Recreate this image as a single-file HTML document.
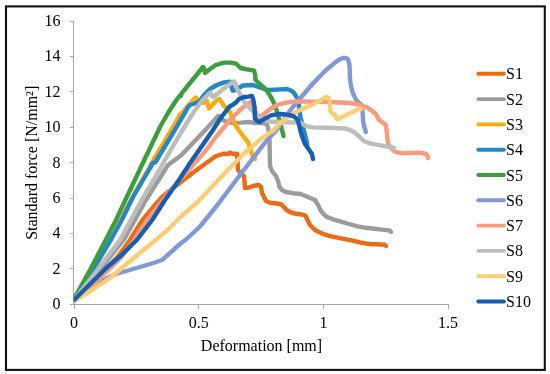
<!DOCTYPE html>
<html><head><meta charset="utf-8"><title>Chart</title>
<style>
html,body{margin:0;padding:0;background:#fff;}
body{width:550px;height:374px;overflow:hidden;}
svg{display:block;}
text{font-family:"Liberation Serif",serif;font-size:16px;fill:#000;}
.ln{fill:none;stroke-width:4.4;stroke-linecap:round;stroke-linejoin:round;}
.ax{stroke:#a6a6a6;stroke-width:1;fill:none;shape-rendering:crispEdges;}
</style></head><body>
<svg width="550" height="374" viewBox="0 0 550 374">
<rect x="0" y="0" width="550" height="374" fill="#fff"/>
<rect x="6" y="6.4" width="538.8" height="363.5" fill="#fff" stroke="#111" stroke-width="2.1"/>

<path class="ax" d="M73.5 20.5 V304.2 H448.5"/>
<path class="ax" d="M69.5 304.2 H74 M69.5 268.8 H74 M69.5 233.4 H74 M69.5 198.0 H74 M69.5 162.6 H74 M69.5 127.2 H74 M69.5 91.8 H74 M69.5 56.4 H74 M69.5 21.0 H74 M74.0 304.2 V308.7 M198.7 304.2 V308.7 M323.4 304.2 V308.7 M448.1 304.2 V308.7 "/>
<text x="60.5" y="309.2" text-anchor="end">0</text>
<text x="60.5" y="273.8" text-anchor="end">2</text>
<text x="60.5" y="238.4" text-anchor="end">4</text>
<text x="60.5" y="203.0" text-anchor="end">6</text>
<text x="60.5" y="167.6" text-anchor="end">8</text>
<text x="60.5" y="132.2" text-anchor="end">10</text>
<text x="60.5" y="96.8" text-anchor="end">12</text>
<text x="60.5" y="61.4" text-anchor="end">14</text>
<text x="60.5" y="26.0" text-anchor="end">16</text>
<text x="74.0" y="327.6" text-anchor="middle">0</text>
<text x="198.7" y="327.6" text-anchor="middle">0.5</text>
<text x="323.4" y="327.6" text-anchor="middle">1</text>
<text x="448.1" y="327.6" text-anchor="middle">1.5</text>
<text x="261.5" y="351.3" text-anchor="middle">Deformation [mm]</text>
<text transform="translate(37.4,162.8) rotate(-90)" text-anchor="middle">Standard force [N/mm²]</text>
<defs><clipPath id="pc"><rect x="73.6" y="10" width="400" height="300"/></clipPath></defs>
<g clip-path="url(#pc)">
<polyline class="ln" stroke="#EC6B19" points="74,301 95,280 117.5,257 130,240 142.5,220 155,205 162,197 170,190.5 181,182 198,169 216,156 224,153.6 228,154 230,152.5 233,154 237,153.6 237.6,162 238,170 241,174 244,176 244.6,182 245,188 249,187.5 253,186 259,185 261,187 262,193 264,197 266,201 270,202.7 280.6,204 283,206 286.5,210 291,212.5 296,213.8 302,214.5 305.5,215.7 307.5,220 310,225 315,230 322,233.5 329,235.8 340,238.2 352.7,240.6 361,242.6 369.3,244 377,244.3 384.7,244.8 386,246"/>
<polyline class="ln" stroke="#9C9C9C" points="74,300 91,281 124.3,239 146,200 168,165 181,155.5 191,145 201,134.5 209,126 214.5,120 217.5,116.5 219.5,116 221,119 226,121.5 233,123 241,122.6 249,122 255,123 262,123 267,124 268.6,130 269.5,140 270,166 272,171 276,176 278,181 279.5,187 282,190 286,192 293,193.2 300.7,194 308,197 315,200 318,205 321,211 324,214.5 327,217 334,219.6 341,221.6 349,224 357.5,226.4 366,227.8 374,228.7 382,229.6 389.4,230.4 391,232"/>
<polyline class="ln" stroke="#F7AD12" points="74,300 90,276 110.5,240 120.8,220 133,196 148.5,169 154,159 161.8,146 178.6,117.4 179.5,114.5 181,114 188,106 194,99 195.5,97.6 198,99.5 203,103 207,101 208,105 209,108.6 211.5,106 214,103 217,100 219.4,99 221.5,102 224,106 227,109 229.7,111.6 232,117 234.5,123.5 238,129 243,136 248,142 250,148 252,154 255,159"/>
<polyline class="ln" stroke="#2488C8" points="74,299 92,271 111.8,238 121.8,220 133,197 151,166.5 151.8,164 155.5,162 157,159.5 170,138 186,111 188,107 190,105 196,103 200,101 202,98 204,95 210,89 217,85 224,82.4 230,81.6 231,85 232.5,90.5 235,90 243,85.5 253,85 260,87.5 267,90 277,89.6 287,89 291,90.5 294,93 296.5,97 298.4,101 299.4,109 300.4,117 302.5,125 304.5,133 306.5,141 307.2,144.5"/>
<polyline class="ln" stroke="#3C9E3C" points="74,299 90,270 106.8,238 116,220 123.5,204 140.5,168 160.5,126 168,113 175,102 179.5,96 180.8,96 181.6,93.4 193.3,79 203,67 204,68.5 205,73 210,69 216,65 224,62.6 230,62.6 236,63.6 238,65.5 240.5,68 247,69.4 254,70.6 255,74 255.6,80 261,85 266.5,90 270,95.5 273.5,102 276.5,110 278.5,117 281,126 283.5,136"/>
<polyline class="ln" stroke="#8199DA" points="74,300 95,284 116,274 140,267 155,262.5 162,260 170,253 180,244 186,239.5 200,226.5 217,205.5 240,175 267,140 275,132 292,108 311.5,85 325,71 336.5,61.4 340.5,59 344,57.8 347.3,58.6 348.8,61.5 349.6,66 350,79 351,86 352.5,92 355.5,99 358.5,102.5 361.5,105 362.6,112 363,120 364,126 365.8,132"/>
<polyline class="ln" stroke="#FB9B7B" points="74,301 99,279 121,257.5 133.8,240.5 147.2,220 162.5,201 172.5,188 192,166 205.5,151 217.5,135 226,125 230,120 238.5,111.5 244,106.5 247.5,103.8 251,102 254,107 258,118.5 261,116.5 265,113 271,108.5 277,105 284,103 291,101.8 302,101.4 313,101.6 330,102 350,103 358,104.4 366,107 371,110 376,114 377.4,117 378.6,119.6 382,122 385.6,125 386.6,130 387,135 388,143 390.6,147.4 394,151 398,152.8 402,153.4 410,153 418,152.6 422,153 426,154 427.4,155.6 428,158"/>
<polyline class="ln" stroke="#BDBDBD" points="74,300 95,273 120,240 140,203 161,167 176,141 185,126 194,111.5 201.8,101 209,93.5 210.5,92.5 212,96 213.5,97 222,90 230,84 234,81.4 235.6,84 237,88.4 241,96 245,103 249,107.4 253,111 258.5,115.5 264,120 272,121.8 286,122.2 300,122.6 303,124 306,126.2 313,127.4 324,127.8 335,128 346,128.6 350,130 354,132 359,136.4 364,141 370,143.4 376,144.6 383,145.8 390,147 394,148"/>
<polyline class="ln" stroke="#FFCD73" points="74,301 92,290 110,278 135,257 157,239 167.6,230 180,217.5 198,201.5 222,176 245,152.5 262,138 274,130 279,124 287,118 295,112.4 303,108.6 311,105.4 319,101.4 326.4,96.8 328.4,98 329.6,101 330.4,111 332.4,113.6 335,115 336.4,118.6 338,119 349,113.6 360,108.4 361,109"/>
<polyline class="ln" stroke="#155EB2" points="74,300 106,268.2 121,255.6 136.8,240 152.2,220 165,200 178,181.5 189,164.6 196,154.6 204,143 213,130 220,119 226.5,110.5 229,107 233,104.6 236,102.4 239,99 244,97 248,96.6 252,96 253.4,100 254.4,106 255,118.6 257,121 259.4,122 265,118.6 271,115.4 276,114.4 281,114 287,114.6 293,116 296,118 298,121 299.6,127 301,133 303,139 305,144 308.6,149 312,154 313,159"/>
</g>
<line class="ln" style="stroke-width:3.9" stroke="#EC6B19" x1="478.3" y1="73.8" x2="503.9" y2="73.8"/>
<text x="506.1" y="79.3">S1</text>
<line class="ln" style="stroke-width:3.9" stroke="#9C9C9C" x1="478.3" y1="99.1" x2="503.9" y2="99.1"/>
<text x="506.1" y="104.6">S2</text>
<line class="ln" style="stroke-width:3.9" stroke="#F7AD12" x1="478.3" y1="124.4" x2="503.9" y2="124.4"/>
<text x="506.1" y="129.9">S3</text>
<line class="ln" style="stroke-width:3.9" stroke="#2488C8" x1="478.3" y1="149.7" x2="503.9" y2="149.7"/>
<text x="506.1" y="155.2">S4</text>
<line class="ln" style="stroke-width:3.9" stroke="#3C9E3C" x1="478.3" y1="175.0" x2="503.9" y2="175.0"/>
<text x="506.1" y="180.5">S5</text>
<line class="ln" style="stroke-width:3.9" stroke="#8199DA" x1="478.3" y1="200.3" x2="503.9" y2="200.3"/>
<text x="506.1" y="205.8">S6</text>
<line class="ln" style="stroke-width:3.9" stroke="#FB9B7B" x1="478.3" y1="225.6" x2="503.9" y2="225.6"/>
<text x="506.1" y="231.1">S7</text>
<line class="ln" style="stroke-width:3.9" stroke="#BDBDBD" x1="478.3" y1="250.9" x2="503.9" y2="250.9"/>
<text x="506.1" y="256.4">S8</text>
<line class="ln" style="stroke-width:3.9" stroke="#FFCD73" x1="478.3" y1="276.2" x2="503.9" y2="276.2"/>
<text x="506.1" y="281.7">S9</text>
<line class="ln" style="stroke-width:3.9" stroke="#155EB2" x1="478.3" y1="301.5" x2="503.9" y2="301.5"/>
<text x="506.1" y="307.0">S10</text>
</svg></body></html>
